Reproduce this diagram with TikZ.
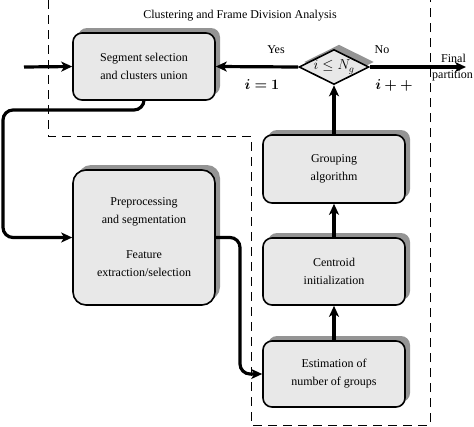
\documentclass[tikz,border=0pt]{standalone}
\usepackage{bm}
\usepackage{fontspec}
\setmainfont{Liberation Serif}
\usetikzlibrary{arrows.meta,shapes.geometric,shadows,calc}
\begin{document}
\begin{tikzpicture}[x=1pt,y=-1pt,
  every node/.style={font=\fontsize{12}{18}\selectfont},
  box/.style={draw=black, line width=1.6pt, fill=black!9, rounded corners=9pt,
    align=center, inner sep=0pt,
    drop shadow={shadow xshift=5pt, shadow yshift=5pt, fill=black!42, opacity=1}},
  dec/.style={draw=black, line width=1.6pt, fill=black!9, shape=diamond, inner sep=0pt,
    minimum width=70pt, minimum height=35pt,
    drop shadow={shadow xshift=5pt, shadow yshift=5pt, fill=black!42, opacity=1}},
  conn/.style={line width=3.2pt, -{Stealth[length=11pt,width=10pt,inset=3pt]}},
  border/.style={line width=1pt, dash pattern=on 9pt off 6pt},
  lbl/.style={inner sep=0pt},
  mlbl/.style={inner sep=0pt, font=\fontsize{14.5}{17}\selectfont}]
\useasboundingbox (0,0) rectangle (474,426);
% dashed region
\draw[border] (48,0) -- (48,136) -- (251,136) -- (251,425) -- (430,425) -- (430,0);
\node[lbl] (title) at (240,16) {Clustering and Frame Division Analysis};
% boxes
\node[box, minimum width=142pt, minimum height=67pt] (seg) at (144,66.5)
  {Segment selection\\and clusters union};
\node[box, rounded corners=13pt, minimum width=142pt, minimum height=135pt] (prep) at (144,237.5)
  {Preprocessing\\and segmentation\\[17pt]Feature\\extraction/selection};
\node[box, minimum width=142pt, minimum height=68pt] (grp) at (334,169)
  {Grouping\\algorithm};
\node[box, minimum width=142pt, minimum height=67pt] (cen) at (334,271.5)
  {Centroid\\initialization};
\node[box, minimum width=142pt, minimum height=66pt] (est) at (334,374)
  {Estimation of\\number of groups};
\node[dec] (dia) at (334,67) {};
\node[mlbl, font=\fontsize{14}{17}\selectfont] (cond) at (dia.center) {$i\le N_g$};
% labels
\node[lbl] (yes) at (276,50) {Yes};
\node[lbl] (no) at (382,50) {No};
\node[mlbl] (ione) at (262,85) {$\bm{i=1}$};
\node[mlbl] (ipp) at (394,85) {$\bm{i++}$};
\node[lbl, anchor=west] (fin) at (441,58) {Final};
\node[lbl, anchor=west] (part) at (432,76) {partition};
% connectors
\coordinate (in) at (24,67);
\coordinate (out) at (466,67);
\coordinate (c1) at (3,110);
\coordinate (c2) at (240,300);
\draw[conn] (in) -- (seg.west);
\draw[conn] (dia.west) -- (seg.east);
\draw[conn] (dia.east) -- (out);
\draw[conn] (grp.north) -- (dia.south);
\draw[conn] (cen.north) -- (grp.south);
\draw[conn] (est.north) -- (cen.south);
\draw[conn, rounded corners=10pt] (seg.south) |- (c1) |- (prep.west);
\draw[conn, rounded corners=10pt] (prep.east) -| (c2) |- (est.west);
\end{tikzpicture}
\end{document}
